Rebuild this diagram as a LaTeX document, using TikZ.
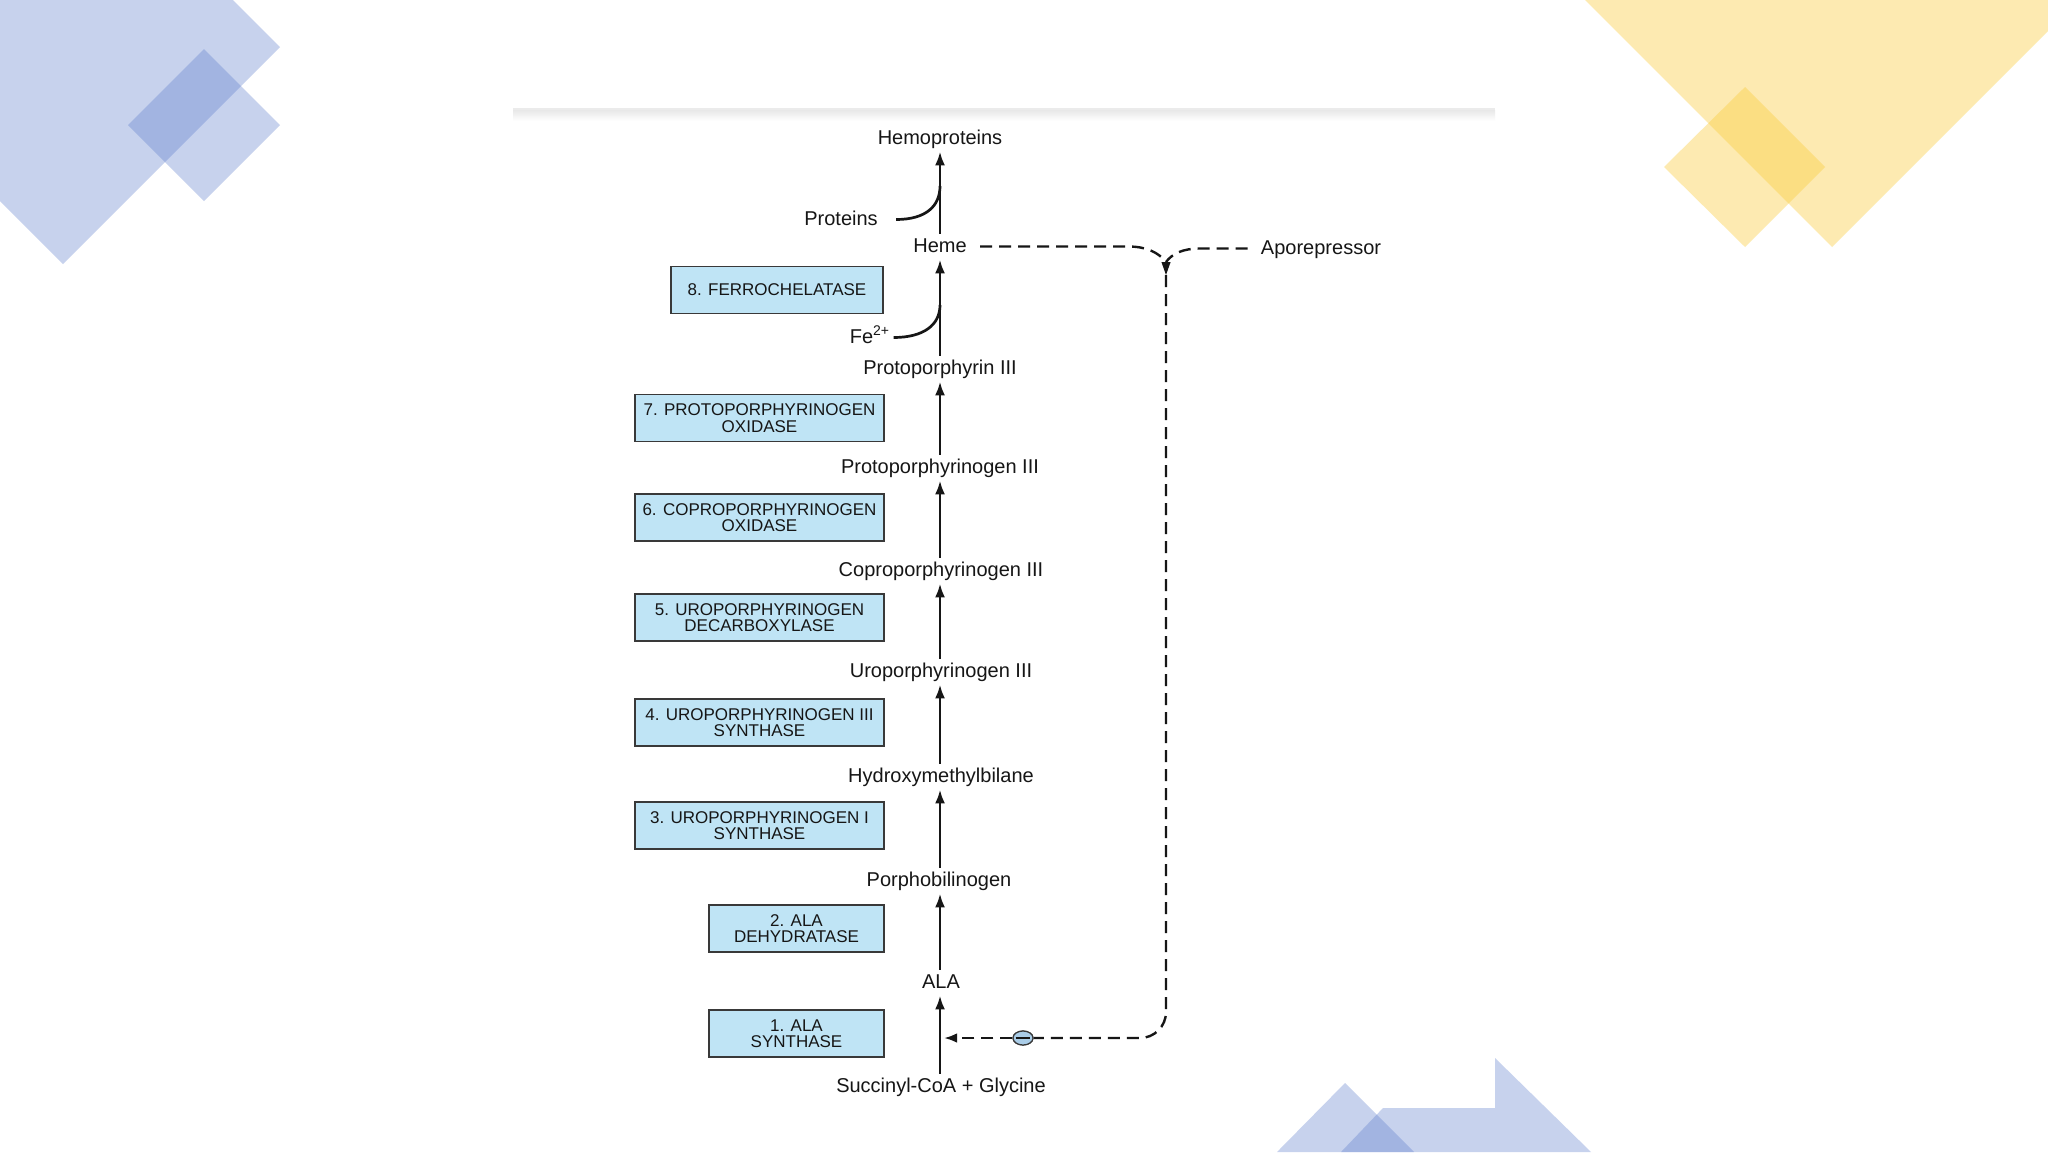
\documentclass[tikz,border=0pt]{standalone}
\usepackage{fontspec}
\setmainfont{Liberation Sans}
\usetikzlibrary{arrows.meta,shapes.geometric}
\definecolor{decoblue}{RGB}{87,120,203}
\definecolor{decoyel}{RGB}{250,204,60}
\definecolor{boxfill}{RGB}{191,228,245}
\definecolor{inhfill}{RGB}{170,205,232}
\definecolor{ink}{RGB}{22,22,22}
\begin{document}
\begin{tikzpicture}[x=0.5pt,y=-0.5pt,
  lbl/.style={font=\fontsize{10}{12}\selectfont,text=ink,inner sep=1.5pt,text height=7.5pt,text depth=2pt,anchor=base},
  enz/.style={draw=ink!85,line width=0.75pt,fill=boxfill,font=\fontsize{8.5}{8.2}\selectfont,align=center,text=ink,inner sep=0pt},
  flow/.style={line width=1.35pt,draw=ink,-{Latex[length=7pt,width=5pt]}},
  feed/.style={line width=1.35pt,draw=ink},
  fb/.style={line width=1.2pt,draw=ink,dash pattern=on 6pt off 3.5pt},
  deco/.style={fill opacity=0.33,fill=decoblue},
  decoy/.style={fill opacity=0.4,fill=decoyel}]
\useasboundingbox (0,0) rectangle (2048,1152);
\fill[white] (0,0) rectangle (2048,1152);
% decorations
\begin{scope}
\clip (0,0) rectangle (2048,1152);
\fill[deco] (63,-170) -- (280,47) -- (63,264) -- (-154,47) -- cycle;
\fill[deco] (204,49) -- (280,125) -- (204,201) -- (128,125) -- cycle;
\fill[decoy] (1832,-553) -- (2232,-153) -- (1832,247) -- (1432,-153) -- cycle;
\fill[decoy] (1745,87) -- (1825,167) -- (1745,247) -- (1664,167) -- cycle;
\fill[deco] (1277,1152) -- (1345,1083) -- (1414,1152) -- cycle;
\fill[deco] (1341,1152) -- (1383,1108) -- (1495,1108) -- (1495,1058) -- (1591,1152) -- cycle;
\end{scope}
% top shadow line
\shade[top color=black!9,bottom color=white] (513,110) rectangle (1495,121);
\draw[black!8,line width=0.6pt] (513,109) -- (1495,109);
% labels
\node[lbl] (hemop) at (940,144) {Hemoproteins};
\node[lbl] (heme) at (940,252) {Heme};
\node[lbl] (proto) at (940,374) {Protoporphyrin III};
\node[lbl] (protog) at (940,473) {Protoporphyrinogen III};
\node[lbl] (copro) at (941,576) {Coproporphyrinogen III};
\node[lbl] (uro) at (941,677) {Uroporphyrinogen III};
\node[lbl] (hmb) at (941,782) {Hydroxymethylbilane};
\node[lbl] (pbg) at (939,886) {Porphobilinogen};
\node[lbl] (ala) at (941,988) {ALA};
\node[lbl] (succ) at (941,1092) {Succinyl-CoA + Glycine};
\node[lbl] (prot) at (841,225) {Proteins};
\node[lbl] (fe) at (870,343) {Fe\textsuperscript{2+}};
\node[lbl] (apo) at (1321,254) {Aporepressor};
% enzyme boxes
\node[enz,minimum width=106pt,minimum height=23.5pt] (e8) at (777,290) {8. FERROCHELATASE};
\node[enz,minimum width=124.5pt,minimum height=23.5pt] (e7) at (759.5,418) {7. PROTOPORPHYRINOGEN\\OXIDASE};
\node[enz,minimum width=124.5pt,minimum height=23.5pt] (e6) at (759.5,517.5) {6. COPROPORPHYRINOGEN\\OXIDASE};
\node[enz,minimum width=124.5pt,minimum height=23.5pt] (e5) at (759.5,617.5) {5. UROPORPHYRINOGEN\\DECARBOXYLASE};
\node[enz,minimum width=124.5pt,minimum height=23.5pt] (e4) at (759.5,722.5) {4. UROPORPHYRINOGEN III\\SYNTHASE};
\node[enz,minimum width=124.5pt,minimum height=23.5pt] (e3) at (759.5,825.5) {3. UROPORPHYRINOGEN I\\SYNTHASE};
\node[enz,minimum width=87.5pt,minimum height=23.5pt] (e2) at (796.5,928.5) {2. ALA\\DEHYDRATASE};
\node[enz,minimum width=87.5pt,minimum height=23.5pt] (e1) at (796.5,1033.5) {1. ALA\\SYNTHASE};
% main flow
\draw[flow] (heme.north -| 940,0) -- (hemop.south -| 940,0);
\draw[flow] (proto.north) -- (heme.south);
\draw[flow] (protog.north) -- (proto.south);
\draw[flow] (copro.north -| 940,0) -- (protog.south);
\draw[flow] (uro.north -| 940,0) -- (copro.south -| 940,0);
\draw[flow] (hmb.north -| 940,0) -- (uro.south -| 940,0);
\draw[flow] (pbg.north -| 940,0) -- (hmb.south -| 940,0);
\draw[flow] (ala.north -| 940,0) -- (pbg.south -| 940,0);
\draw[flow] (succ.north -| 940,0) -- (ala.south -| 940,0);
% side inputs
\coordinate (pm) at (940,186);
\coordinate (fm) at (940,305);
\draw[feed] ([xshift=7.5pt]prot.east) .. controls +(30,0) and (940,206) .. (pm);
\draw[feed] (fe.east) .. controls +(30,0) and (940,325) .. (fm);
% feedback
\coordinate (j) at (1166,262);
\coordinate (jt) at (1166,275);
\coordinate (hb) at (1128,246.5);
\coordinate (ab) at (1200,248.5);
\coordinate (corner) at (1166,1038);
\coordinate (tgt) at (944,1038);
\draw[fb] ([xshift=5pt]heme.east) -- (hb) .. controls (1146,246.5) and (1158,252) .. (j);
\draw[fb] ([xshift=-5pt]apo.west) -- (ab) .. controls (1182,248.5) and (1172,254) .. (j);
\fill[ink] ([xshift=-2.3pt]j) -- ([xshift=2.3pt]j) -- (jt) -- cycle;
\node[ellipse,draw=ink!85,fill=inhfill,minimum width=10pt,minimum height=7pt,inner sep=0pt,line width=0.6pt] (inh) at (1023,1038) {};
\draw[fb,rounded corners=13pt] (jt) -- (corner) -- (inh.east);
\draw[fb,-{Latex[length=6.5pt,width=4.8pt]}] (inh.west) -- (tgt);
\node[ellipse,draw=ink!85,fill=inhfill,minimum width=10pt,minimum height=7pt,inner sep=0pt,line width=0.6pt] at (inh) {};
\draw[line width=1.3pt,ink] ([xshift=1.6pt]inh.west) -- ([xshift=-1.6pt]inh.east);
\end{tikzpicture}
\end{document}
